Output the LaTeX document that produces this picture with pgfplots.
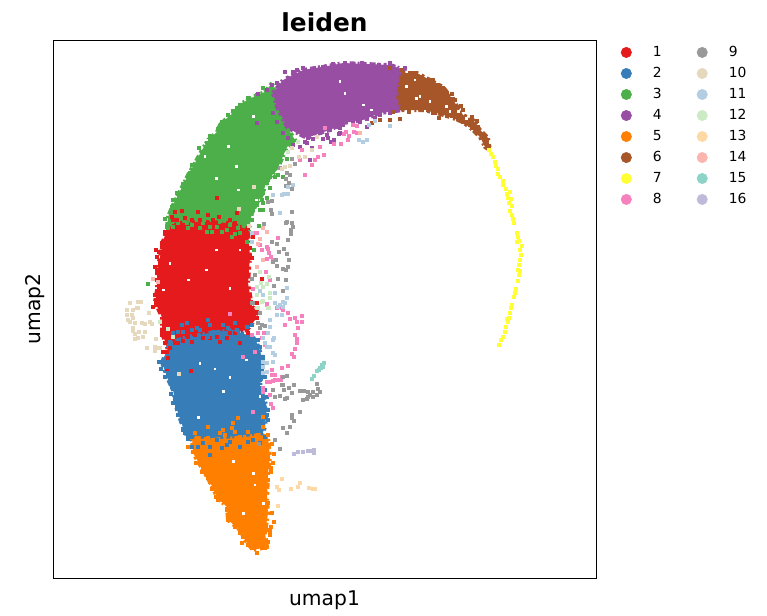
\documentclass[border=0pt]{standalone}
\usepackage{fontspec}
\setmainfont{DejaVu Sans}
\usepackage{pgfplots}
\pgfplotsset{compat=1.18}
\definecolor{c1}{HTML}{E41A1C}
\definecolor{c2}{HTML}{377EB8}
\definecolor{c3}{HTML}{4DAF4A}
\definecolor{c4}{HTML}{984EA3}
\definecolor{c5}{HTML}{FF7F00}
\definecolor{c6}{HTML}{A65628}
\definecolor{c7}{HTML}{FFFF33}
\definecolor{c8}{HTML}{F781BF}
\definecolor{c9}{HTML}{999999}
\definecolor{c10}{HTML}{E5D8BD}
\definecolor{c11}{HTML}{B3CDE3}
\definecolor{c12}{HTML}{CCEBC5}
\definecolor{c13}{HTML}{FED9A6}
\definecolor{c14}{HTML}{FBB4AE}
\definecolor{c15}{HTML}{8DD3C7}
\definecolor{c16}{HTML}{BEBADA}
% coordinates are read in picture pixels; a, b, c are the three crops used for reading
\pgfplotsset{
  a/.style={x filter/.expression={120+x/3}, y filter/.expression={50+y/3}},
  b/.style={x filter/.expression={120+x/3}, y filter/.expression={300+y/3}},
  c/.style={x filter/.expression={330+x/3}, y filter/.expression={50+y/3}},
  blob/.style={fill=#1, draw=#1, line width=3pt, forget plot,
    dash pattern=on 2.25pt off 2.25pt on 4.5pt off 1.5pt on 1.5pt off 3pt},
}
\newcommand{\pts}[3]{\addplot[only marks, mark=square*, mark size=1.1pt, color=#1, #2,
  mark options={solid, line width=0pt}, forget plot] coordinates {#3};}
\newcommand{\leg}[2]{\addlegendimage{only marks, mark=*, mark size=3.9pt, color=#1}\addlegendentry{#2}}
\begin{document}
\begin{tikzpicture}
\path[use as bounding box] (-39.75pt,-27.75pt) rectangle (535.5pt,433.5pt);
\begin{axis}[
  scale only axis,
  width=407.25pt,
  height=403.5pt,
  at={(0pt,0pt)},
  anchor=south west,
  xmin=53, xmax=596,
  ymin=40, ymax=578,
  y dir=reverse,
  xtick=\empty,
  ytick=\empty,
  axis line style={line width=0.75pt},
  title={\fontsize{18.6pt}{20pt}\selectfont\bfseries leiden},
  title style={at={(0.5,1)}, anchor=south, yshift=-3.7pt},
  xlabel={\fontsize{15.2pt}{18pt}\selectfont umap1},
  xlabel style={yshift=-6pt},
  ylabel={\fontsize{15.2pt}{18pt}\selectfont umap2},
  ylabel style={yshift=3pt},
  legend columns=2,
  legend cell align=left,
  legend style={draw=none, fill=none, at={(1.0384,0.9987)}, anchor=north west,
    font=\fontsize{10.4pt}{12pt}\selectfont, row sep=2.55pt,
    /tikz/every odd column/.append style={column sep=14pt},
    /tikz/every even column/.append style={column sep=24.5pt}},
]
% filled bodies
\addplot[blob=c3] coordinates {(272,83) (265,92) (257,95) (248,100) (242,103) (237,110) (228,117) (220,125) (217,132) (208,140) (202,150) (195,163) (188,175) (182,187) (177,197) (172,207) (168,217) (167,227) (190,232) (248,235) (252,213) (257,203) (263,193) (267,180) (277,170) (280,163) (287,147) (295,140) (287,127)} --cycle;
\addplot[blob=c4] coordinates {(273,93) (283,80) (303,70) (333,65) (343,63) (365,64) (390,65) (405,70) (408,90) (403,110) (380,113) (363,120) (343,123) (330,130) (320,133) (307,138) (295,132) (287,127) (277,107)} --cycle;
\addplot[blob=c6] coordinates {(402,73) (417,73) (430,80) (443,87) (453,100) (463,115) (473,120) (480,130) (488,138) (490,150) (485,147) (480,137) (473,130) (463,122) (450,117) (437,113) (423,110) (403,110) (398,100) (400,80)} --cycle;
\addplot[blob=c1] coordinates {(167,228) (180,223) (205,222) (230,223) (248,230) (250,257) (248,283) (252,307) (257,310) (255,320) (247,330) (230,333) (210,337) (187,340) (167,347) (162,333) (162,317) (155,302) (157,290) (157,270) (160,257) (163,242)} --cycle;
\addplot[blob=c2] coordinates {(170,343) (187,337) (210,333) (233,330) (253,337) (257,343) (263,360) (260,387) (267,407) (265,427) (260,440) (230,450) (200,448) (192,440) (185,433) (177,410) (173,390) (167,377) (162,362)} --cycle;
\addplot[blob=c5] coordinates {(192,437) (193,453) (203,470) (210,482) (217,497) (227,507) (228,520) (240,530) (245,540) (253,550) (267,547) (265,533) (268,513) (267,500) (268,473) (270,457) (268,437) (260,435) (237,438) (210,440)} --cycle;
% scatter round the bodies and along the seams
\pts{c3}{a}{(85,703) (238,295) (160,450) (170,428) (190,403) (450,415) (430,480) (417,527) (403,600) (465,380) (490,380) (480,332) (520,280) (500,328) (490,290) (135,507) (200,520) (160,530) (145,535) (250,520) (270,530) (360,550) (345,553) (380,575) (320,540) (230,510) (290,530) (190,490) (220,495) (140,530) (155,515) (175,520) (300,515) (330,525) (375,525) (385,510)
 (360,165) (350,175) (338,182) (325,195) (305,215) (295,238) (270,258) (262,275) (245,320) (215,345) (210,370) (175,428) (163,450) (155,470) (385,145) (410,135) (430,115) (300,228) (270,265) (445,390) (440,400) (450,380) (475,375) (430,430) (425,450) (410,465) (400,480) (395,510) (420,480) (430,460) (440,445) (205,535) (240,535) (260,545) (305,545) (335,560) (150,520) (215,525) (275,545) (355,535)}
\pts{c4}{a}{(575,293) (610,268) (625,265) (642,270) (570,330) (560,280) (540,292) (410,220) (550,55) (495,65) (440,120) (415,132) (530,60) (590,60) (460,190) (470,215) (480,150) (600,250) (565,265) (520,65) (580,62) (610,50) (640,42) (505,85) (470,100) (455,105) (555,275) (580,268) (620,255) (660,250) (520,285) (490,250) (505,265)}
\pts{c4}{c}{(110,232) (28,253) (3,275) (95,40) (148,45) (180,40) (225,55) (60,210) (90,215) (40,225) (10,45) (45,40) (125,48) (30,235) (5,215) (20,230) (70,213) (110,208) (135,205) (150,195) (180,190) (0,240)}
\pts{c6}{c}{(125,220) (180,210) (150,210) (210,208) (328,205) (365,133) (392,168) (370,148) (352,197) (390,207) (440,212) (310,190) (238,185) (190,185) (180,55) (215,60) (240,70) (258,68) (335,113) (425,200) (445,230) (470,270) (478,297) (460,262) (420,225) (400,215) (270,80) (285,95) (310,90) (325,105) (340,115) (350,130) (375,150) (400,180) (430,235) (385,207) (365,198) (345,185) (330,185) (315,190) (290,180) (270,178) (215,175)}
\pts{white}{c,mark size=0.55pt}{(255,90) (260,145) (270,140) (300,155) (350,170) (385,185) (410,205) (230,110) (285,185) (360,185) (30,95) (100,165) (45,130) (125,180)}
\pts{white}{a,mark size=0.55pt}{(255,320) (290,385) (355,420) (325,290) (400,200) (350,350) (410,450) (260,270)}
\pts{c7}{c}{(478,300) (482,312) (488,322) (495,335) (497,348) (505,358) (503,372) (510,382) (518,392) (520,405) (527,418) (530,432) (541,427) (535,445) (544,448) (538,458) (545,467) (540,484) (546,494) (548,508) (552,520) (560,548) (563,560) (560,575) (568,573) (576,589) (569,600) (574,616) (570,630) (568,645) (565,660) (570,662) (567,676) (563,692) (559,716) (556,730) (553,742) (547,765) (543,775) (540,790) (536,803) (530,806) (533,816) (529,831) (525,845) (520,860) (514,871) (507,885)}
\pts{c1}{a}{(108,600) (118,605) (110,620) (105,650) (115,660) (112,690) (110,730) (108,760) (125,590) (425,688) (400,562) (185,482) (165,485) (160,510) (170,510) (235,485) (265,495) (297,500) (240,510) (265,520) (290,445) (330,510) (350,490) (385,535) (380,550) (155,500) (195,505) (215,510) (135,545) (280,510) (310,525) (345,520) (390,595) (395,625) (125,580) (130,575) (120,640) (118,670) (105,735) (112,755) (100,770)}
\pts{white}{a,mark size=0.55pt}{(205,690) (260,660) (330,715) (150,640) (360,600) (290,600) (130,720)}
\pts{c1}{b}{(410,10) (410,25) (408,40) (140,155) (150,145) (145,175) (142,208) (212,213) (165,130) (135,130) (215,125) (250,115) (330,100) (360,130) (410,40) (410,55) (190,122) (125,105) (270,115) (300,125) (385,100) (175,130) (205,112) (225,105) (290,110) (320,115) (345,100) (130,155)}
\pts{c2}{b}{(185,75) (200,70) (190,95) (215,90) (265,60) (270,75) (345,70) (350,90) (310,75) (380,80) (150,125) (240,90) (300,100) (265,110) (118,185) (128,182) (122,208) (152,283) (160,310) (180,335) (185,365) (203,418) (215,440) (440,292) (445,330) (445,360) (430,350) (430,290) (435,270) (425,290) (235,440) (250,430) (270,440) (290,420) (320,435) (330,425) (270,465) (305,445) (420,430) (435,412) (215,412) (360,440) (385,425) (400,420) (425,180) (425,225) (435,230) (420,140) (415,120) (150,230) (160,250) (150,190) (140,200) (135,230) (155,260) (165,295) (170,320) (175,345) (190,350) (190,390) (195,400) (205,410) (430,170) (420,240) (420,265) (425,300) (440,345) (420,345) (160,100) (175,95) (230,85) (280,95) (325,85) (365,105) (395,75)}
\pts{white}{b,mark size=0.55pt}{(285,207) (310,275) (235,353) (380,180) (330,232) (240,190) (420,290)}
\pts{c5}{b}{(203,442) (227,490) (245,517) (275,568) (287,592) (293,600) (325,660) (345,680) (365,730) (412,760) (455,640) (463,665) (453,680) (450,692) (450,705) (452,515) (452,503) (462,463) (455,433) (442,442) (265,380) (310,390) (340,370) (355,355) (225,400) (265,415) (315,405) (345,395) (385,395) (430,380) (235,418) (350,420) (360,410) (430,350) (415,405) (445,405) (250,515) (270,545) (330,645) (435,745) (220,455) (230,470) (250,500) (265,535) (290,570) (310,600) (320,630) (350,675) (360,700) (370,710) (385,735) (400,745) (460,490) (445,540) (445,610) (440,690) (445,725) (335,385) (300,400) (280,420)}
\pts{white}{b,mark size=0.55pt}{(400,520) (430,610) (405,555) (340,485) (370,640)}
\pts{c8}{a}{(545,300) (615,235) (643,283) (600,292) (613,315) (595,322) (577,345) (555,375) (585,330) (540,330) (475,565) (445,598) (440,590) (425,600) (448,610) (452,622) (440,627) (460,630) (408,550) (412,550) (420,585) (450,690) (438,665) (410,650) (398,718) (430,735) (440,765) (470,775) (485,775)}
\pts{c8}{b}{(440,12) (490,30) (505,40) (510,58) (525,55) (545,48) (545,65) (530,65) (535,85) (495,75) (525,105) (530,118) (530,130) (525,148) (517,162) (522,170) (505,198) (485,205) (455,210) (465,225) (455,225) (465,240) (450,245) (440,247) (458,243) (485,230) (482,240) (428,265) (430,275) (450,285) (453,312) (460,325) (400,335) (370,170) (405,155) (415,100) (432,100) (395,105) (435,135) (425,115) (330,42) (470,240)}
\pts{c8}{c}{(70,225) (80,228) (48,247) (43,252) (58,258) (72,247) (80,250) (55,271) (12,283) (33,283)}
\pts{c9}{a}{(500,370) (510,375) (498,388) (508,398) (498,408) (515,418) (445,455) (455,453) (453,480) (455,492) (433,522) (500,515) (515,487) (498,520) (515,520) (520,530) (512,540) (512,553) (505,570) (455,575) (472,583) (493,598) (478,607) (500,613) (468,630) (508,630) (470,648) (460,637) (490,658) (505,652) (498,660) (405,675) (497,690) (475,687) (395,688) (462,708) (490,723) (400,760) (515,328) (525,343) (480,355)}
\pts{c9}{b}{(420,38) (425,75) (435,78) (415,70) (420,85) (395,10) (500,228) (490,230) (485,255) (490,255) (522,255) (493,270) (508,265) (515,278) (460,270) (480,287) (465,290) (500,293) (495,298) (540,272) (553,272) (565,275) (570,285) (580,275) (595,268) (600,277) (590,285) (580,290) (565,290) (548,300) (560,297) (590,252) (540,337) (515,345) (515,355) (523,363) (510,380) (490,385) (500,398) (465,420) (480,447) (418,432)}
\pts{c10}{a}{(590,262) (515,295) (537,320) (555,320) (577,300) (510,348) (495,352) (487,358) (403,410) (358,476) (388,527) (30,760) (55,755) (62,757) (55,775) (20,780) (40,780)}
\pts{c10}{b}{(30,10) (55,5) (62,5) (22,30) (40,30) (20,45) (35,45) (50,25) (25,60) (40,55) (30,65) (45,68) (88,38) (65,70) (75,72) (90,65) (97,72) (40,85) (40,92) (75,95) (45,103) (55,113) (70,112) (45,118) (58,97) (108,118) (80,143) (105,140) (115,145) (120,145) (105,153) (178,223)}
\pts{c11}{a}{(460,436) (485,436) (493,432) (505,433) (503,410) (520,404) (480,490) (395,548) (395,575) (420,722) (465,728) (500,715) (465,760) (475,770) (490,755) (500,745) (490,770) (430,735)}
\pts{c11}{b}{(465,10) (480,15) (495,8) (485,45) (470,45) (450,80) (462,115) (458,120) (430,115) (440,140) (450,140) (458,160) (465,165) (460,185) (440,190) (430,200) (430,220) (440,215) (450,60) (445,100) (435,130) (430,185)}
\pts{c11}{c}{(135,213) (118,226) (181,229) (88,271) (100,277) (112,271)}
\pts{c12}{a}{(420,667) (448,680) (410,712) (423,700) (430,712) (442,703) (450,728) (412,735) (450,745) (430,752) (412,775) (448,775) (535,277) (505,305)}
\pts{c12}{b}{(120,65) (145,88) (160,110) (445,25) (415,25) (425,5)}
\pts{c13}{b}{(485,537) (470,560) (478,570) (512,566) (535,560) (540,548) (568,565) (578,568) (585,568) (475,617)}
\pts{c14}{a}{(100,688) (115,697) (430,535) (440,547) (420,568) (428,630) (410,650) (415,583)}
\pts{c14}{c}{(90,248)}
\pts{c15}{b}{(575,237) (583,227) (590,213) (597,210) (603,205) (607,195) (613,190) (610,200) (600,205)}
\pts{c16}{b}{(523,462) (533,457) (550,457) (565,452) (575,452) (583,450) (583,458)}
\leg{c1}{1}\leg{c9}{9}\leg{c2}{2}\leg{c10}{10}\leg{c3}{3}\leg{c11}{11}\leg{c4}{4}\leg{c12}{12}
\leg{c5}{5}\leg{c13}{13}\leg{c6}{6}\leg{c14}{14}\leg{c7}{7}\leg{c15}{15}\leg{c8}{8}\leg{c16}{16}
\end{axis}
\end{tikzpicture}
\end{document}
